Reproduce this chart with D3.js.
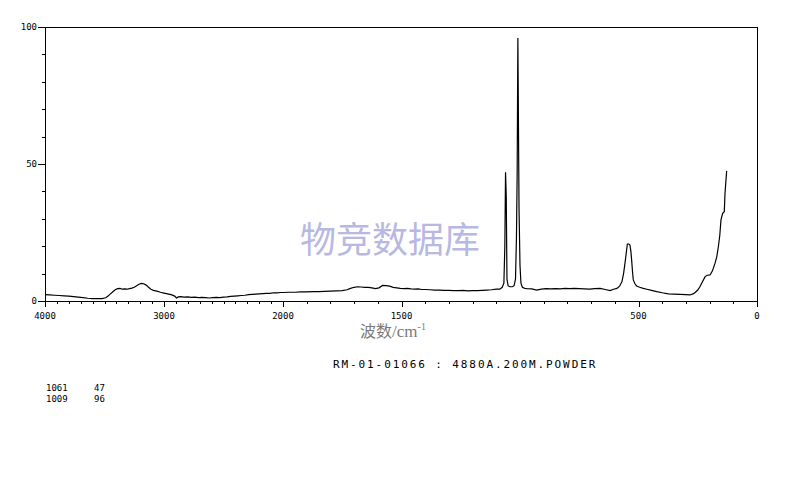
<!DOCTYPE html>
<html><head><meta charset="utf-8">
<script src="https://cdn.jsdelivr.net/npm/d3@7"></script>
<style>
html,body{margin:0;padding:0;background:#fff;}
svg{display:block;}
</style></head>
<body>
<svg id="c" width="794" height="482"></svg>
<script>
const wavenumbers = [4000,3960,3920,3880,3840,3800,3760,3720,3680,3640,3600,3560,3520,3490,3470,3450,3430,3410,3390,3370,3350,3330,3310,3290,3270,3250,3230,3210,3190,3170,3150,3130,3110,3090,3060,3030,3000,2970,2940,2910,2895,2880,2860,2830,2800,2770,2740,2710,2680,2650,2620,2590,2560,2530,2500,2470,2440,2410,2380,2350,2320,2290,2260,2230,2200,2170,2140,2110,2080,2050,2020,
2000,1975,1950,1925,1900,1875,1850,1825,1800,1775,1750,1730,1715,1700,1685,1670,1655,1640,1625,1610,1595,1580,1565,1550,1535,1520,1505,1490,1475,1460,1445,1430,1415,1400,1380,1360,1340,1320,1300,1280,1260,1240,1220,1200,1180,1160,1140,1120,1100,1085,1075,1068,1064,1061,1058,1055,1050,1042,1032,1025,1019,1015,1012,1009,1004,1000,996,990,980,
970,950,930,910,890,870,850,830,810,790,770,750,730,705,685,662,640,620,605,591,580,570,563,557,551,547,541,536,532,529,525,522,515,508,495,480,465,445,423,400,374,350,325,300,283,270,262,250,241,230,219,210,198,188,177,170,163,157,152,145,138,135,131,128];
const intensities = [2.3,2.2,2.1,2.0,1.9,1.8,1.6,1.4,1.2,1.0,0.9,0.9,0.9,1.2,1.8,2.6,3.4,4.1,4.5,4.6,4.3,4.4,4.3,4.5,4.7,5.0,5.6,6.1,6.4,6.3,5.8,5.0,4.3,3.9,3.6,3.2,2.9,2.6,2.3,1.8,1.1,1.5,1.6,1.4,1.5,1.3,1.4,1.2,1.3,1.2,1.1,1.2,1.3,1.2,1.4,1.5,1.7,1.8,1.9,2.0,2.1,2.3,2.4,2.5,2.6,2.7,2.8,2.8,3.0,3.0,3.1,
3.1,3.2,3.2,3.3,3.3,3.4,3.4,3.5,3.6,3.7,3.8,4.1,4.6,5.0,5.2,5.1,5.0,5.0,4.8,4.5,4.8,5.7,5.6,5.4,5.0,4.8,4.6,4.5,4.6,4.4,4.3,4.4,4.2,4.2,4.1,4.0,4.0,3.9,3.9,3.8,3.8,3.9,3.7,3.8,3.8,3.9,4.0,4.1,4.3,4.3,5.0,6.5,20,47,38,8,5.5,5.2,5.2,5.6,8,23,46,96,33,13,6.5,5.0,4.6,
4.5,4.4,4.0,4.3,4.5,4.4,4.5,4.4,4.6,4.5,4.6,4.5,4.4,4.3,4.5,4.6,4.2,3.8,4.3,4.6,5.4,7.0,10,13.8,18,20.8,20.8,20.4,18,15,10.5,7.7,6.3,5.5,5.0,4.6,4.3,3.9,3.4,3.0,2.6,2.5,2.4,2.3,2.2,2.6,3.0,4.0,5.2,7.0,8.9,9.4,9.5,11,13.8,16,19.8,24,29.6,32,32.6,39.3,44,47.5];

const xBreaks = [4000, 2000, 0];
const xMajorTicks = [4000, 3000, 2000, 1500, 500, 0];
const yMajorTicks = [0, 50, 100];
const peakWavenumbers = ["1061", "1009"];
const peakValues = ["47", "96"];
const titleText = "RM-01-01066 : 4880A.200M.POWDER";
const watermark = "物竞数据库";

const svg = d3.select("#c");
const L = 45, R = 757, T = 27, B = 301;
const x = d3.scaleLinear().domain(xBreaks).range([L, 283, R]);
const y = d3.scaleLinear().domain([0, 100]).range([B, T]);

const monoFont = "'DejaVu Sans Mono', 'Liberation Mono', monospace";

// watermark
svg.append("text").attr("x", 390).attr("y", 253).attr("text-anchor", "middle")
  .attr("font-family", "'Noto Sans CJK SC', sans-serif").attr("font-size", 36)
  .attr("fill", "#b8b8e2").text(watermark);

// frame
svg.append("path").attr("d", `M${L},${B}V${T}H${R}V${B}`)
  .attr("fill", "none").attr("stroke", "#000").attr("stroke-width", 1)
  .attr("shape-rendering", "crispEdges");
svg.append("line").attr("x1", L).attr("x2", R).attr("y1", B).attr("y2", B)
  .attr("stroke", "#000").attr("shape-rendering", "crispEdges");

// x minor ticks every 100
const xMinor = d3.range(0, 4001, 100).filter(v => !xMajorTicks.includes(v));
svg.append("g").selectAll("line").data(xMinor).join("line")
  .attr("x1", d => Math.round(x(d)) + 0.5).attr("x2", d => Math.round(x(d)) + 0.5)
  .attr("y1", B).attr("y2", B + 3).attr("stroke", "#000");
svg.append("g").selectAll("line").data(xMajorTicks).join("line")
  .attr("x1", d => Math.round(x(d)) + 0.5).attr("x2", d => Math.round(x(d)) + 0.5)
  .attr("y1", B).attr("y2", B + 6).attr("stroke", "#000");
svg.append("g").selectAll("text").data(xMajorTicks).join("text")
  .attr("x", d => x(d)).attr("y", 319).attr("text-anchor", "middle")
  .attr("font-family", monoFont).attr("font-size", 9).attr("fill", "#000")
  .text(d => d);

// y ticks
const yMinor = d3.range(10, 100, 10).filter(v => !yMajorTicks.includes(v));
svg.append("g").selectAll("line").data(yMinor).join("line")
  .attr("x1", L - 3).attr("x2", L).attr("y1", d => Math.round(y(d)) + 0.5).attr("y2", d => Math.round(y(d)) + 0.5)
  .attr("stroke", "#000");
svg.append("g").selectAll("line").data(yMajorTicks).join("line")
  .attr("x1", L - 7).attr("x2", L).attr("y1", d => Math.round(y(d)) + 0.5).attr("y2", d => Math.round(y(d)) + 0.5)
  .attr("stroke", "#000");
svg.append("g").selectAll("text").data(yMajorTicks).join("text")
  .attr("x", 37).attr("y", d => y(d) + 3).attr("text-anchor", "end")
  .attr("font-family", monoFont).attr("font-size", 9).attr("fill", "#000")
  .text(d => d);

// spectrum
const data = wavenumbers.map((w, i) => [w, intensities[i]]);
svg.append("path").datum(data)
  .attr("d", d3.line().x(d => x(d[0])).y(d => y(d[1])))
  .attr("fill", "none").attr("stroke", "#000").attr("stroke-width", 1.2)
  .attr("stroke-linejoin", "miter");

// axis title
const at = svg.append("text").attr("x", 393).attr("y", 337).attr("text-anchor", "middle")
  .attr("fill", "#7a7a7a");
at.append("tspan").attr("font-family", "'Noto Sans CJK SC', serif").attr("font-size", 16).text("波数");
at.append("tspan").attr("font-family", "'Liberation Serif', serif").attr("font-size", 17).text("/cm");
at.append("tspan").attr("font-family", "'Liberation Serif', serif").attr("font-size", 10).attr("dy", -7).text("-1");

// title
svg.append("text").attr("x", 333).attr("y", 368)
  .attr("font-family", monoFont).attr("font-size", 11).attr("letter-spacing", 1.9)
  .attr("fill", "#000").text(titleText);

// peak list
const pl = svg.append("g");
peakWavenumbers.forEach((w, i) => {
  pl.append("text").attr("x", 46).attr("y", 391 + i * 11)
    .attr("font-family", monoFont).attr("font-size", 9).text(w);
  pl.append("text").attr("x", 94).attr("y", 391 + i * 11)
    .attr("font-family", monoFont).attr("font-size", 9).text(peakValues[i]);
});
</script>
</body></html>
